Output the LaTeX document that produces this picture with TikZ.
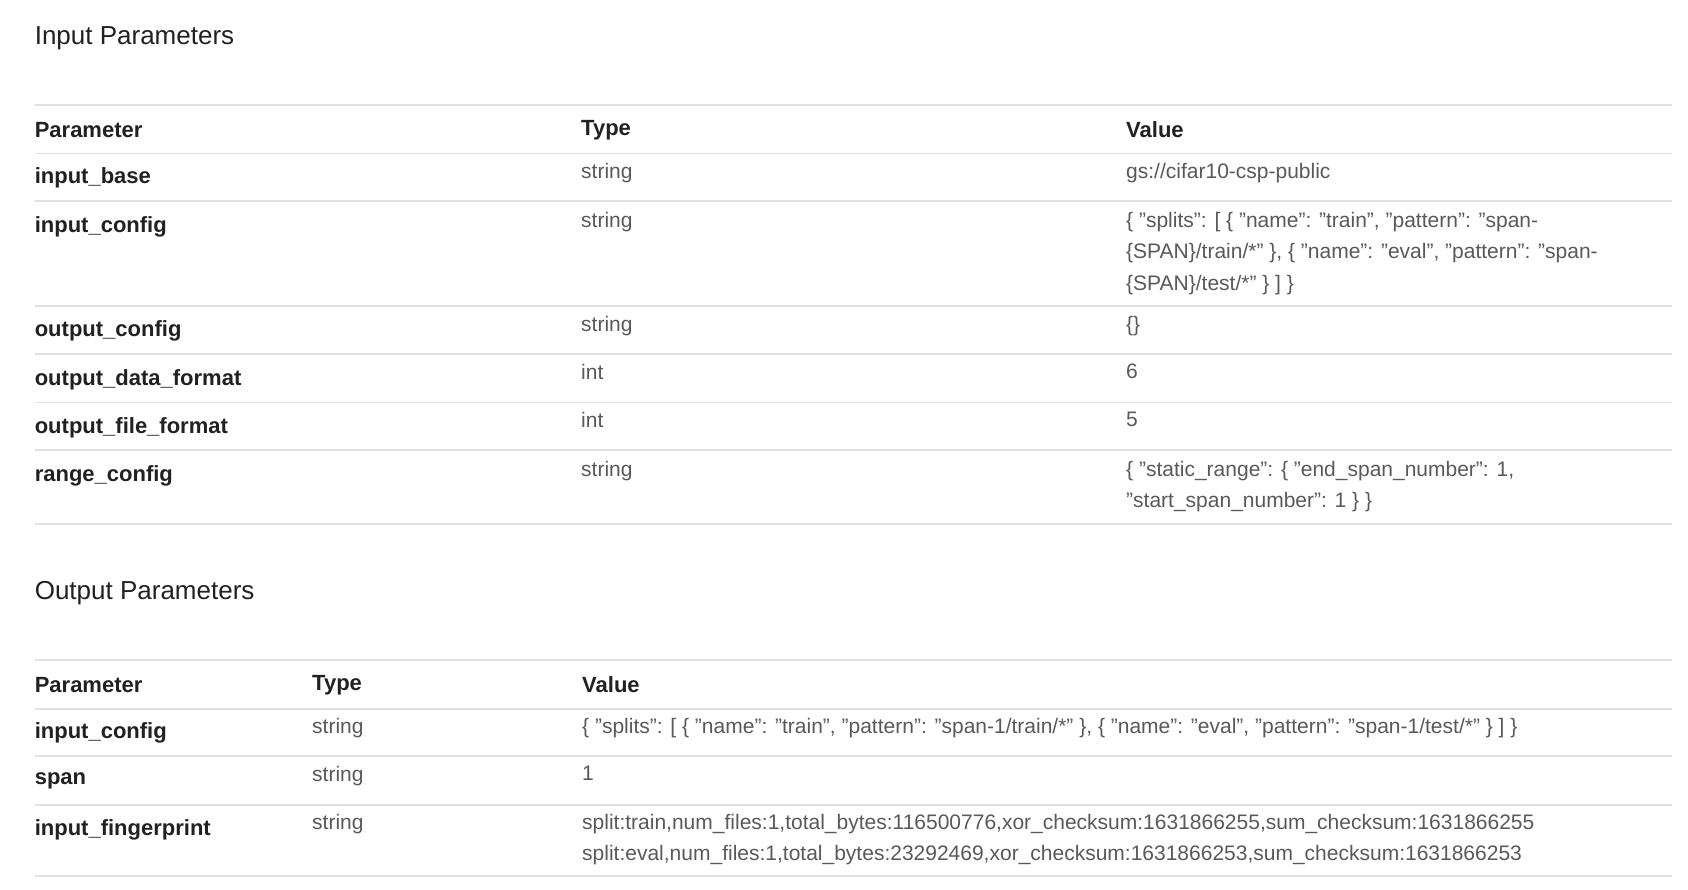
\documentclass[tikz,border=0pt]{standalone}
\usepackage{fontspec}
\setmainfont{Liberation Sans}
\begin{document}
\begin{tikzpicture}[x=1pt,y=-1pt,
 ttl/.style={anchor=west,inner sep=0,font=\fontsize{26}{30}\selectfont,text=black!87},
 hd/.style={anchor=west,inner sep=0,font=\fontsize{22}{26}\selectfont\bfseries,text=black!87},
 nm/.style={anchor=west,inner sep=0,font=\fontsize{22}{26}\selectfont\bfseries,text=black!87},
 vl/.style={anchor=north west,inner sep=0,font=\fontsize{21}{31.5}\selectfont,text=black!65,align=left},
 rl/.style={draw=black!12,line width=1.5pt}]
\useasboundingbox (0,0) rectangle (1688,890);
\node[ttl] (t1) at (34.6,38) {Input Parameters};
\foreach \y [count=\i] in {105,153.6,201,306,354,402.5,450,524}{\coordinate (a\i) at (34.6,\y); \coordinate (b\i) at (1672,\y); \draw[rl] (a\i) -- (b\i);}
\node[hd] (h1) at (34.6,130) {Parameter};
\node[hd] (h2) at (581,130) {Type};
\node[hd] (h3) at (1126,130) {Value};
\node[nm] (n1) at (34.6,178) {input\_base};
\node[vl] (ty1) at (581,163) {string};
\node[vl] (v1) at (1126,163) {gs://cifar10-csp-public};
\node[nm] (n2) at (34.6,227) {input\_config};
\node[vl] (ty2) at (581,212) {string};
\node[vl] (v2) at (1126,212) {\{ "splits": [ \{ "name": "train", "pattern": "span-\\\{SPAN\}/train/*" \}, \{ "name": "eval", "pattern": "span-\\\{SPAN\}/test/*" \} ] \}};
\node[nm] (n3) at (34.6,331) {output\_config};
\node[vl] (ty3) at (581,316) {string};
\node[vl] (v3) at (1126,316) {\{\}};
\node[nm] (n4) at (34.6,380) {output\_data\_format};
\node[vl] (ty4) at (581,364) {int};
\node[vl] (v4) at (1126,364) {6};
\node[nm] (n5) at (34.6,428) {output\_file\_format};
\node[vl] (ty5) at (581,412) {int};
\node[vl] (v5) at (1126,412) {5};
\node[nm] (n6) at (34.6,476) {range\_config};
\node[vl] (ty6) at (581,461) {string};
\node[vl] (v6) at (1126,461) {\{ "static\_range": \{ "end\_span\_number": 1,\\"start\_span\_number": 1 \} \}};
\node[ttl] (t2) at (34.6,593) {Output Parameters};
\foreach \y [count=\i] in {660,709,756,805,876}{\coordinate (c\i) at (34.6,\y); \coordinate (d\i) at (1672,\y); \draw[rl] (c\i) -- (d\i);}
\node[hd] (g1) at (34.6,685) {Parameter};
\node[hd] (g2) at (312,685) {Type};
\node[hd] (g3) at (582,685) {Value};
\node[nm] (m1) at (34.6,733) {input\_config};
\node[vl] (u1) at (312,718) {string};
\node[vl] (w1) at (582,718) {\{ "splits": [ \{ "name": "train", "pattern": "span-1/train/*" \}, \{ "name": "eval", "pattern": "span-1/test/*" \} ] \}};
\node[nm] (m2) at (34.6,781) {span};
\node[vl] (u2) at (312,766) {string};
\node[vl] (w2) at (582,766) {1};
\node[nm] (m3) at (34.6,830) {input\_fingerprint};
\node[vl] (u3) at (312,814) {string};
\node[vl] (w3) at (582,814) {split:train,num\_files:1,total\_bytes:116500776,xor\_checksum:1631866255,sum\_checksum:1631866255\\split:eval,num\_files:1,total\_bytes:23292469,xor\_checksum:1631866253,sum\_checksum:1631866253};
\end{tikzpicture}
\end{document}
